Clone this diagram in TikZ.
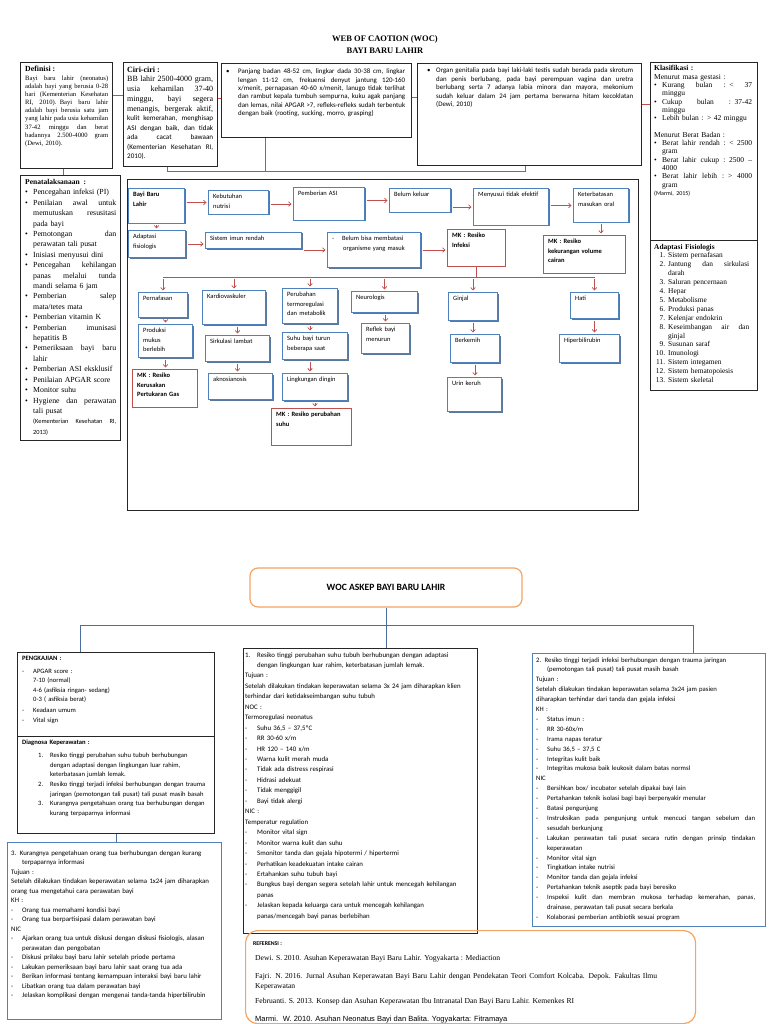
\documentclass[tikz,border=0pt]{standalone}
\usepackage{fontspec}
\setmainfont{Liberation Serif}
\newfontfamily\calib{Carlito}
\newfontfamily\arialf{Liberation Sans}
\usetikzlibrary{arrows.meta,shadows}
\definecolor{ored}{HTML}{C0504D}
\definecolor{oblue}{HTML}{4F81BD}
\definecolor{oorange}{HTML}{F5A462}
\definecolor{lnblue}{HTML}{4A6E9E}
\newlength\wbind
\newlength\wjw
\newcommand\wfs[2]{\fontsize{#1}{#2}\selectfont}
\newcommand\wjs{\spaceskip=\fontdimen2\font plus 1fil\relax}
\newcommand\wjl[1]{\leavevmode\hbox to\wjw{\wjs #1}}
\newcommand\wbl[1]{\makebox[\wbind][l]{\textbullet}#1}
\newcommand\wbjl[1]{\makebox[\wbind][l]{\textbullet}\hbox to\dimexpr\wjw-\wbind\relax{\wjs #1}}
\newcommand\wcl[1]{\hspace*{\wbind}#1}
\newcommand\wcjl[1]{\hspace*{\wbind}\hbox to\dimexpr\wjw-\wbind\relax{\wjs #1}}
\newcommand\wdl[1]{\makebox[\wbind][l]{-}#1}
\newcommand\wdjl[1]{\makebox[\wbind][l]{-}\hbox to\dimexpr\wjw-\wbind\relax{\wjs #1}}
\newcommand\wll[2]{\makebox[\wbind][l]{#1}#2}
\newcommand\wnl[2]{\makebox[11pt][r]{#1}\hspace{3pt}#2}
\newcommand\wnjl[2]{\makebox[11pt][r]{#1}\hspace{3pt}\hbox to\dimexpr\wjw-14pt\relax{\wjs #2}}
\newcommand\wncl[1]{\hspace*{14pt}#1}
\newcommand\wbox[6]{\pgfmathsetmacro\wbw{#5-#3}\pgfmathsetmacro\wbh{#6-#4}%
  \node[#2, anchor=north west, inner sep=0pt, minimum width=\wbw pt, minimum height=\wbh pt] (#1) at (#3,#4) {};}
\newcommand\wfb[7]{\wbox{#1}{#2}{#3}{#4}{#5}{#6}\pgfmathsetmacro\wtw{#5-#3}%
  \node[ftxt, text width=\wtw pt] (#1t) at ([shift={(5,4)}]#1.north west) {#7};}
\begin{document}
\begin{tikzpicture}[x=1pt,y=-1pt,
  bx/.style={draw=black!85, line width=1pt},
  fbox/.style={draw=oblue, line width=1pt, fill=white, drop shadow={shadow xshift=1pt, shadow yshift=-1pt, fill=oblue!75!black, opacity=0.85}},
  mkbox/.style={draw=ored, line width=1.3pt, fill=white},
  txt/.style={anchor=base west, inner sep=0pt, align=left},
  rl/.style={draw=ored, line width=0.8pt},
  arr/.style={draw=ored, line width=0.7pt, -{Straight Barb[length=2.5pt,width=4.5pt]}, shorten >=1.5pt, shorten <=1.5pt},
  bln/.style={draw=lnblue, line width=0.9pt},
  ftxt/.style={anchor=north west, inner sep=0pt, align=left, font={\calib\wfs{6.5}{9.5}}}
]
\fill[white] (0,0) rectangle (768,1024);
\useasboundingbox (0,0) rectangle (768,1024);

% ---------- title
\node[font=\bfseries\wfs{8.5}{10}] (title1) at (385,39) {WEB OF CAOTION (WOC)};
\node[font=\bfseries\wfs{8.5}{10}] (title2) at (385,50.5) {BAYI BARU LAHIR};

% ---------- top boxes
\wbox{def}{bx}{20}{62}{112}{168}
\node[txt, font=\bfseries\wfs{7.8}{9}] (defh) at (25,72) {Definisi :};
\node[txt, text width=95pt, font=\wfs{6.6}{8.1}] (defb) at (25,80.5) {\setlength\wjw{83pt}%
\wjl{Bayi baru lahir (neonatus)}\\ \wjl{adalah bayi yang berusia 0-28}\\ \wjl{hari (Kementerian Kesehatan}\\ \wjl{RI, 2010). Bayi baru lahir}\\ \wjl{adalah bayi berusia satu jam}\\ \wjl{yang lahir pada usia kehamilan}\\ \wjl{37-42 minggu dan berat}\\ \wjl{badannya 2.500-4000 gram}\\ (Dewi, 2010).};

\wbox{cir}{bx}{123}{62}{217}{166}
\node[txt, font=\bfseries\wfs{8}{10}] (cirh) at (127,73) {Ciri-ciri :};
\node[txt, text width=95pt, font=\wfs{8}{10}] (cirb) at (127,82) {\setlength\wjw{86pt}%
\wjl{BB lahir 2500-4000 gram,}\\ \wjl{usia kehamilan 37-40}\\ \wjl{minggu, bayi segera}\\ \wjl{menangis, bergerak aktif,}};
\node[txt, text width=95pt, font=\calib\wfs{7.1}{9.4}] (circ) at (127,121) {\setlength\wjw{86pt}%
\wjl{kulit kemerahan, menghisap}\\ \wjl{ASI dengan baik, dan tidak}\\ \wjl{ada cacat bawaan}\\ \wjl{(Kementerian Kesehatan RI,}\\ 2010).};

\wbox{pan}{bx}{221}{63}{411}{137}
\node[txt, text width=190pt, font=\calib\wfs{6.9}{8.3}] (pant) at (226,74) {\setlength\wjw{179pt}\setlength\wbind{12pt}%
\wbjl{Panjang badan 48-52 cm, lingkar dada 30-38 cm, lingkar}\\ \wcjl{lengan 11-12 cm, frekuensi denyut jantung 120-160}\\ \wcjl{x/menit, pernapasan 40-60 x/menit, lanugo tidak terlihat}\\ \wcjl{dan rambut kepala tumbuh sempurna, kuku agak panjang}\\ \wcjl{dan lemas, nilai APGAR >7, refleks-refleks sudah terbentuk}\\ \wcl{dengan baik (rooting, sucking, morro, grasping)}};

\wbox{org}{bx}{417}{63}{641}{165}
\node[txt, text width=215pt, font=\calib\wfs{6.9}{8.4}] (orgt) at (427,73) {\setlength\wjw{206pt}\setlength\wbind{9pt}%
\wbjl{Organ genitalia pada bayi laki-laki testis sudah berada pada skrotum}\\ \wcjl{dan penis berlubang, pada bayi perempuan vagina dan uretra}\\ \wcjl{berlubang serta 7 adanya labia minora dan mayora, mekonium}\\ \wcjl{sudah keluar dalam 24 jam pertama berwarna hitam kecoklatan}\\ \wcl{(Dewi, 2010)}};

\wbox{kla}{bx}{650}{62}{757}{240}
\node[txt, text width=105pt, font=\wfs{7.5}{8.3}] (klat) at (654,71) {\setlength\wjw{98pt}\setlength\wbind{8pt}%
\textbf{Klasifikasi :}\\ Menurut masa gestasi :\\ \wbjl{Kurang bulan : < 37}\\ \wcl{minggu}\\ \wbjl{Cukup bulan : 37-42}\\ \wcl{minggu}\\ \wbl{Lebih bulan : > 42 minggu}\\ \mbox{}\\ Menurut Berat Badan :\\ \wbjl{Berat lahir rendah : < 2500}\\ \wcl{gram}\\ \wbjl{Berat lahir cukup : 2500 –}\\ \wcl{4000}\\ \wbjl{Berat lahir lebih : > 4000}\\ \wcl{gram}\\ {\calib\wfs{6}{8.3}(Marmi, 2015)}};

\wbox{ada}{bx}{650}{240}{757}{390}
\node[txt, text width=105pt, font=\wfs{7.4}{8.9}] (adat) at (654,249) {\setlength\wjw{95pt}%
\textbf{Adaptasi Fisiologis}\\ \wnl{1.}{Sistem pernafasan}\\ \wnjl{2.}{Jantung dan sirkulasi}\\ \wncl{darah}\\ \wnl{3.}{Saluran pencernaan}\\ \wnl{4.}{Hepar}\\ \wnl{5.}{Metabolisme}\\ \wnl{6.}{Produksi panas}\\ \wnl{7.}{Kelenjar endokrin}\\ \wnjl{8.}{Keseimbangan air dan}\\ \wncl{ginjal}\\ \wnl{9.}{Susunan saraf}\\ \wnl{10.}{Imunologi}\\ \wnl{11.}{Sistem integamen}\\ \wnl{12.}{Sistem hematopoiesis}\\ \wnl{13.}{Sistem skeletal}};

\wbox{pen}{bx}{20}{175}{120}{440}
\node[txt, font=\bfseries\wfs{7.5}{8}] (penh) at (25,185) {Penatalaksanaan \ :};
\node[txt, text width=100pt, font=\wfs{7.8}{10.4}] (pent) at (25,195) {\setlength\wjw{91pt}\setlength\wbind{8pt}%
\wbl{Pencegahan infeksi (PI)}\\ \wbjl{Penilaian awal untuk}\\ \wcjl{memutuskan resusitasi}\\ \wcl{pada bayi}\\ \wbjl{Pemotongan dan}\\ \wcl{perawatan tali pusat}\\ \wbl{Inisiasi menyusui dini}\\ \wbjl{Pencegahan kehilangan}\\ \wcjl{panas melalui tunda}\\ \wcl{mandi selama 6 jam}\\ \wbjl{Pemberian salep}\\ \wcl{mata/tetes mata}\\ \wbl{Pemberian vitamin K}\\ \wbjl{Pemberian imunisasi}\\ \wcl{hepatitis B}\\ \wbjl{Pemeriksaan bayi baru}\\ \wcl{lahir}\\ \wbl{Pemberian ASI eksklusif}\\ \wbl{Penilaian APGAR score}\\ \wbl{Monitor suhu}\\ \wbjl{Hygiene dan perawatan}\\ \wcl{tali pusat}\\ \wcjl{\calib\wfs{6.4}{10.4}(Kementerian Kesehatan RI,}\\ \wcl{\calib\wfs{6.4}{10.4}2013)}};

% top connectors
\coordinate (h95) at (0,95);
\coordinate (h98) at (0,98);
\coordinate (h97) at (0,97);
\coordinate (h104) at (0,104);
\coordinate (h171) at (0,171);
\coordinate (v63) at (63,0);
\coordinate (v167) at (167,0);
\coordinate (v265) at (265,0);
\coordinate (v525) at (525,0);
\draw[rl] (def.east |- h95) -- (cir.west |- h95);
\draw[rl] (cir.east |- h98) -- (pan.west |- h98);
\draw[rl] (pan.east |- h97) -- (org.west |- h97);
\draw[rl] (org.east |- h104) -- (kla.west |- h104);
\draw[rl] (def.south -| v63) -- (pen.north -| v63);
\draw[rl] (cir.south -| v167) -- (v167 |- h171) -- (v525 |- h171) -- (org.south -| v525);
\draw[rl] (pan.south -| v265) -- (v265 |- h171);

% ---------- flow
\wbox{flow}{bx}{127}{179}{638}{510}
\wfb{bbl}{fbox}{128}{188}{184}{223}{\textbf{Bayi Baru}\\\textbf{Lahir}}
\wfb{keb}{fbox}{208}{190}{268}{214}{Kebutuhan\\nutrisi}
\wfb{asi}{fbox}{293}{187}{364}{220}{Pemberian ASI}
\wfb{blk}{fbox}{389}{188}{450}{212}{Belum keluar}
\wfb{mte}{fbox}{473}{188}{548}{225}{Menyusui tidak efektif}
\wfb{kmo}{fbox}{573}{188}{628}{222}{Keterbatasan\\masukan oral}
\wfb{adf}{fbox}{128}{230}{185}{257}{Adaptasi\\fisiologis}
\wfb{sir}{fbox}{205}{232}{301}{248}{Sistem imun rendah}
\wfb{bbm}{fbox}{327}{232}{420}{267}{-\hspace{8pt}Belum bisa membatasi\\\hspace*{11pt}organisme yang masuk}
\wfb{mki}{mkbox}{447}{229}{505}{266}{\textbf{MK : Resiko}\\\textbf{Infeksi}}
\wfb{mkv}{mkbox}{543}{235}{625}{273}{\textbf{MK : Resiko}\\\textbf{kekurangan volume}\\\textbf{cairan}}
\wfb{pern}{fbox}{138}{292}{187}{317}{Pernafasan}
\wfb{kard}{fbox}{202}{290}{265}{324}{Kardiovaskuler}
\wfb{term}{fbox}{282}{288}{337}{323}{Perubahan\\termoregulasi\\dan metabolik}
\wfb{neur}{fbox}{351}{291}{417}{312}{Neurologis}
\wfb{ginj}{fbox}{448}{292}{497}{320}{Ginjal}
\wfb{hati}{fbox}{570}{292}{618}{318}{Hati}
\wfb{prod}{fbox}{138}{324}{192}{357}{Produksi\\mukus\\berlebih}
\wfb{sirk}{fbox}{205}{335}{269}{361}{Sirkulasi lambat}
\wfb{suhu}{fbox}{282}{332}{347}{359}{Suhu bayi turun\\beberapa saat}
\wfb{refl}{fbox}{361}{323}{409}{353}{Reflek bayi\\menurun}
\wfb{berk}{fbox}{450}{334}{499}{362}{Berkemih}
\wfb{hipe}{fbox}{559}{334}{619}{362}{Hiperbilirubin}
\wfb{mkg}{mkbox}{132}{369}{197}{407}{\textbf{MK : Resiko}\\\textbf{Kerusakan}\\\textbf{Pertukaran Gas}}
\wfb{akno}{fbox}{208}{373}{272}{399}{aknosianosis}
\wfb{ling}{fbox}{282}{373}{347}{400}{Lingkungan dingin}
\wfb{urin}{fbox}{447}{377}{501}{411}{Urin keruh}
\wfb{mks}{mkbox}{271}{408}{351}{445}{\textbf{MK : Resiko perubahan}\\\textbf{suhu}}

\draw[arr] (bbl.east |- keb.west) -- (keb.west);
\draw[arr] (keb.east |- asi.west) -- (asi.west);
\draw[arr] (asi.east |- blk.west) -- (blk.west);
\draw[arr] (blk.east |- mte.west) -- (mte.west);
\draw[arr] (mte.east |- kmo.west) -- (kmo.west);
\draw[arr] (bbl.south) -- (bbl.south |- adf.north);
\draw[arr] (kmo.south) -- (kmo.south |- mkv.north);
\draw[arr] (adf.east) -- (adf.east -| sir.west);
\draw[arr] (bbm.west -| sir.east) -- (bbm.west);
\draw[arr] (bbm.east) -- (bbm.east -| mki.west);
\coordinate (hl) at (0,277);
\draw[rl] (mki.south) -- (mki.south |- hl);
\draw[rl] (pern.north |- hl) -- (hati.north |- hl);
\foreach \n in {pern,kard,term,neur,ginj,hati} \draw[arr] (\n.north |- hl) -- (\n.north);
\draw[arr] (prod.north |- pern.south) -- (prod.north);
\draw[arr] (prod.south) -- (prod.south |- mkg.north);
\draw[arr] (sirk.north |- kard.south) -- (sirk.north);
\draw[arr] (sirk.south) -- (sirk.south |- akno.north);
\draw[arr] (term.south) -- (term.south |- suhu.north);
\draw[arr, line width=0.9pt] (term.south |- suhu.south) -- (term.south |- ling.north);
\draw[arr] (ling.south) -- (ling.south |- mks.north);
\draw[arr] (refl.north |- neur.south) -- (refl.north);
\draw[arr] (ginj.south) -- (ginj.south |- berk.north);
\draw[arr] (berk.south) -- (berk.south |- urin.north);
\draw[arr] (hati.south) -- (hati.south |- hipe.north);

% ---------- bottom part
\node[draw=oorange, rounded corners=8pt, line width=1.2pt, minimum width=272pt, minimum height=39pt, inner sep=0pt, font=\calib\bfseries\wfs{9.6}{10}] (woc) at (386,587.5) {WOC ASKEP BAYI BARU LAHIR};

\wbox{pgk}{bx}{17}{652}{214}{833}
\coordinate (dv) at (0,736);
\draw[bx] (pgk.west |- dv) -- (pgk.east |- dv);
\node[txt, text width=200pt, font=\calib\wfs{6.6}{9.4}] (pgkt) at (22,660) {\setlength\wbind{11pt}%
\textbf{PENGKAJIAN :}\\[4pt] \wdl{APGAR score :}\\ \wcl{7-10 (normal)}\\ \wcl{4-6 (asfiksia ringan- sedang)}\\ \wcl{0-3 ( asfiksia berat)}\\[1pt] \wdl{Keadaan umum}\\[1pt] \wdl{Vital sign}};
\node[txt, text width=200pt, font=\calib\wfs{6.6}{9.6}] (dgkt) at (22,744) {%
\textbf{Diagnosa Keperawatan :}\\[4pt]
\hspace*{16pt}\makebox[12pt][l]{1.}Resiko tinggi perubahan suhu tubuh berhubungan\\
\hspace*{28pt}dengan adaptasi dengan lingkungan luar rahim,\\
\hspace*{28pt}keterbatasan jumlah lemak.\\
\hspace*{16pt}\makebox[12pt][l]{2.}Resiko tinggi terjadi infeksi berhubungan dengan trauma\\
\hspace*{28pt}jaringan (pemotongan tali pusat) tali pusat masih basah\\
\hspace*{16pt}\makebox[12pt][l]{3.}Kurangnya pengetahuan orang tua berhubungan dengan\\
\hspace*{28pt}kurang terpaparnya informasi};

\wbox{bA}{bx}{243}{648}{477}{933}
\node[txt, text width=240pt, font=\calib\wfs{6.85}{10.45}] (bAt) at (245,657) {\setlength\wbind{12pt}%
\wll{1.}{Resiko tinggi perubahan suhu tubuh berhubungan dengan adaptasi}\\
\wcl{dengan lingkungan luar rahim, keterbatasan jumlah lemak.}\\
Tujuan :\\
Setelah dilakukan tindakan keperawatan selama 3x 24 jam diharapkan klien\\
terhindar dari ketidakseimbangan suhu tubuh\\
NOC :\\
Termoregulasi neonatus\\
\wdl{Suhu 36,5 – 37,5ºC}\\
\wdl{RR 30-60 x/m}\\
\wdl{HR 120 – 140 x/m}\\
\wdl{Warna kulit merah muda}\\
\wdl{Tidak ada distress respirasi}\\
\wdl{Hidrasi adekuat}\\
\wdl{Tidak menggigil}\\
\wdl{Bayi tidak alergi}\\
NIC :\\
Temperatur regulation\\
\wdl{Monitor vital sign}\\
\wdl{Monitor warna kulit dan suhu}\\
\wdl{Smonitor tanda dan gejala hipotermi / hipertermi}\\
\wdl{Perhatikan keadekuatan intake cairan}\\
\wdl{Ertahankan suhu tubuh bayi}\\
\wdl{Bungkus bayi dengan segera setelah lahir untuk mencegah kehilangan}\\
\wcl{panas}\\
\wdl{Jelaskan kepada keluarga cara untuk mencegah kehilangan}\\
\wcl{panas/mencegah bayi panas berlebihan}};

\wbox{bB}{draw=oblue, line width=1.1pt}{532}{653}{765}{926}
\node[txt, text width=240pt, font=\calib\wfs{6.7}{9.9}] (bBt) at (536,662) {\setlength\wbind{11pt}\setlength\wjw{219pt}%
2. Resiko tinggi terjadi infeksi berhubungan dengan trauma jaringan\\
\wcl{(pemotongan tali pusat) tali pusat masih basah}\\
Tujuan :\\
Setelah dilakukan tindakan keperawatan selama 3x24 jam pasien\\
diharapkan terhindar dari tanda dan gejala infeksi\\
KH :\\
\wdl{Status imun :}\\
\wdl{RR 30-60x/m}\\
\wdl{Irama napas teratur}\\
\wdl{Suhu 36,5 – 37,5 C}\\
\wdl{Integritas kulit baik}\\
\wdl{Integritas mukosa baik leukosit dalam batas normsl}\\
NIC\\
\wdl{Bersihkan box/ incubator setelah dipakai bayi lain}\\
\wdl{Pertahankan teknik isolasi bagi bayi berpenyakir menular}\\
\wdl{Batasi pengunjung}\\
\wdjl{Instruksikan pada pengunjung untuk mencuci tangan sebelum dan}\\
\wcl{sesudah berkunjung}\\
\wdjl{Lakukan perawatan tali pusat secara rutin dengan prinsip tindakan}\\
\wcl{keperawatan}\\
\wdl{Monitor vital sign}\\
\wdl{Tingkatkan intake nutrisi}\\
\wdl{Monitor tanda dan gejala infeksi}\\
\wdl{Pertahankan teknik aseptik pada bayi beresiko}\\
\wdjl{Inspeksi kulit dan membran mukosa terhadap kemerahan, panas,}\\
\wcl{drainase, perawatan tali pusat secara berkala}\\
\wdl{Kolaborasi pemberian antibiotik sesuai program}};

\wbox{bC}{draw=oblue, line width=1.1pt}{7}{842}{221}{1019}
\node[txt, text width=225pt, font=\calib\wfs{6.85}{9.5}] (bCt) at (11,855) {\setlength\wbind{11pt}%
3. Kurangnya pengetahuan orang tua berhubungan dengan kurang\\
\wcl{terpaparnya informasi}\\
Tujuan :\\
Setelah dilakukan tindakan keperawatan selama 1x24 jam diharapkan\\
orang tua mengetahui cara perawatan bayi\\
KH :\\
\wdl{Orang tua memahami kondisi bayi}\\
\wdl{Orang tua berpartisipasi dalam perawatan bayi}\\
NIC\\
\wdl{Ajarkan orang tua untuk diskusi dengan diskusi fisiologis, alasan}\\
\wcl{perawatan dan pengobatan}\\
\wdl{Diskusi prilaku bayi baru lahir setelah priode pertama}\\
\wdl{Lakukan pemeriksaan bayi baru lahir saat orang tua ada}\\
\wdl{Berikan informasi tentang kemampuan interaksi bayi baru lahir}\\
\wdl{Libatkan orang tua dalam perawatan bayi}\\
\wdl{Jelaskan komplikasi dengan mengenai tanda-tanda hiperbilirubin}};

\wbox{refs}{draw=oorange, line width=1.2pt, rounded corners=12pt}{245}{930}{695}{1023}
\node[txt, font=\calib\bfseries\wfs{5.8}{7}] (refh) at (253,945) {REFERENSI :};
\node[txt, font=\wfs{7.6}{9}] (ref1) at (255,960.5) {Dewi. S. 2010. Asuhan Keperawatan Bayi Baru Lahir. Yogyakarta : Mediaction};
\node[txt, text width=440pt, font=\wfs{7.6}{9.5}] (ref2) at (255,978.5) {Fajri. N. 2016. Jurnal Asuhan Keperawatan Bayi Baru Lahir dengan Pendekatan Teori Comfort Kolcaba. Depok. Fakultas Ilmu\\ Keperawatan};
\node[txt, font=\wfs{7.6}{9}] (ref3) at (255,1003.5) {Februanti. S. 2013. Konsep dan Asuhan Keperawatan Ibu Intranatal Dan Bayi Baru Lahir. Kemenkes RI};
\node[txt, font=\arialf\wfs{7.5}{9}] (ref4) at (255,1021.5) {Marmi. \ W. 2010. Asuhan Neonatus Bayi dan Balita. Yogyakarta: Fitramaya};

% bottom connectors
\coordinate (hbl) at (80,625);
\coordinate (hbr) at (693,625);
\draw[bln] (woc.south) -- (woc.south |- bA.north);
\draw[bln] (hbl) -- (hbr);
\draw[bln] (hbl) -- (hbl |- pgk.north);
\draw[bln] (hbr) -- (hbr |- bB.north);
\draw[bln] (pgk.south) -- (pgk.south |- bC.north);
\end{tikzpicture}
\end{document}
